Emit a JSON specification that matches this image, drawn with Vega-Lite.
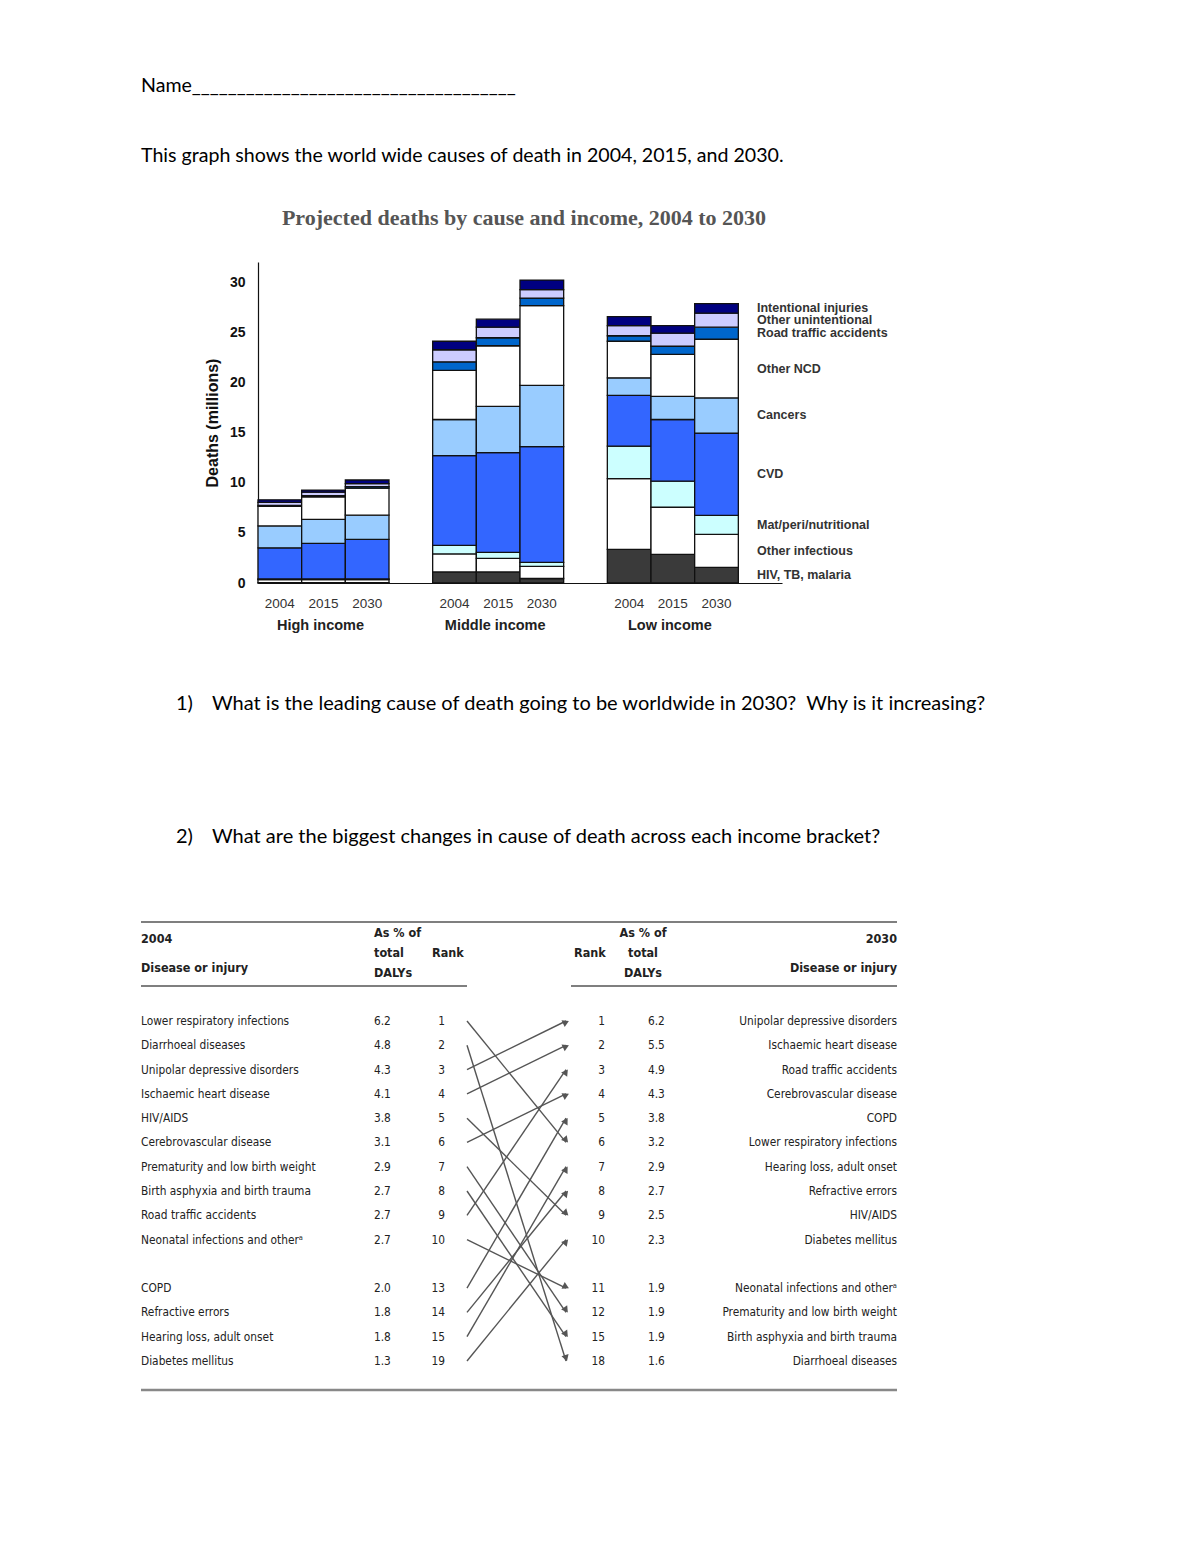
{
  "$schema": "https://vega.github.io/schema/vega-lite/v6.json",
  "width": 1200,
  "height": 1553,
  "padding": 0,
  "autosize": {"type": "none"},
  "background": "white",
  "config": {"view": {"stroke": null}, "font": "Liberation Sans"},
  "datasets": {
    "deaths": [
      {"income": "High", "year": "2004", "cause": "HIV, TB, malaria", "deaths": 0.03},
      {"income": "High", "year": "2004", "cause": "Other infectious", "deaths": 0.32},
      {"income": "High", "year": "2004", "cause": "Mat/peri/nutritional", "deaths": 0.05},
      {"income": "High", "year": "2004", "cause": "CVD", "deaths": 3.11},
      {"income": "High", "year": "2004", "cause": "Cancers", "deaths": 2.18},
      {"income": "High", "year": "2004", "cause": "Other NCD", "deaths": 1.94},
      {"income": "High", "year": "2004", "cause": "Road traffic accidents", "deaths": 0.1},
      {"income": "High", "year": "2004", "cause": "Other unintentional", "deaths": 0.3},
      {"income": "High", "year": "2004", "cause": "Intentional injuries", "deaths": 0.26},
      {"income": "High", "year": "2015", "cause": "HIV, TB, malaria", "deaths": 0.03},
      {"income": "High", "year": "2015", "cause": "Other infectious", "deaths": 0.32},
      {"income": "High", "year": "2015", "cause": "Mat/peri/nutritional", "deaths": 0.05},
      {"income": "High", "year": "2015", "cause": "CVD", "deaths": 3.55},
      {"income": "High", "year": "2015", "cause": "Cancers", "deaths": 2.4},
      {"income": "High", "year": "2015", "cause": "Other NCD", "deaths": 2.25},
      {"income": "High", "year": "2015", "cause": "Road traffic accidents", "deaths": 0.1},
      {"income": "High", "year": "2015", "cause": "Other unintentional", "deaths": 0.35},
      {"income": "High", "year": "2015", "cause": "Intentional injuries", "deaths": 0.21},
      {"income": "High", "year": "2030", "cause": "HIV, TB, malaria", "deaths": 0.03},
      {"income": "High", "year": "2030", "cause": "Other infectious", "deaths": 0.32},
      {"income": "High", "year": "2030", "cause": "Mat/peri/nutritional", "deaths": 0.05},
      {"income": "High", "year": "2030", "cause": "CVD", "deaths": 3.95},
      {"income": "High", "year": "2030", "cause": "Cancers", "deaths": 2.41},
      {"income": "High", "year": "2030", "cause": "Other NCD", "deaths": 2.7},
      {"income": "High", "year": "2030", "cause": "Road traffic accidents", "deaths": 0.15},
      {"income": "High", "year": "2030", "cause": "Other unintentional", "deaths": 0.3},
      {"income": "High", "year": "2030", "cause": "Intentional injuries", "deaths": 0.36},
      {"income": "Middle", "year": "2004", "cause": "HIV, TB, malaria", "deaths": 1.1},
      {"income": "Middle", "year": "2004", "cause": "Other infectious", "deaths": 1.8},
      {"income": "Middle", "year": "2004", "cause": "Mat/peri/nutritional", "deaths": 0.85},
      {"income": "Middle", "year": "2004", "cause": "CVD", "deaths": 8.95},
      {"income": "Middle", "year": "2004", "cause": "Cancers", "deaths": 3.6},
      {"income": "Middle", "year": "2004", "cause": "Other NCD", "deaths": 4.9},
      {"income": "Middle", "year": "2004", "cause": "Road traffic accidents", "deaths": 0.85},
      {"income": "Middle", "year": "2004", "cause": "Other unintentional", "deaths": 1.2},
      {"income": "Middle", "year": "2004", "cause": "Intentional injuries", "deaths": 0.85},
      {"income": "Middle", "year": "2015", "cause": "HIV, TB, malaria", "deaths": 1.1},
      {"income": "Middle", "year": "2015", "cause": "Other infectious", "deaths": 1.35},
      {"income": "Middle", "year": "2015", "cause": "Mat/peri/nutritional", "deaths": 0.6},
      {"income": "Middle", "year": "2015", "cause": "CVD", "deaths": 9.95},
      {"income": "Middle", "year": "2015", "cause": "Cancers", "deaths": 4.6},
      {"income": "Middle", "year": "2015", "cause": "Other NCD", "deaths": 6.05},
      {"income": "Middle", "year": "2015", "cause": "Road traffic accidents", "deaths": 0.8},
      {"income": "Middle", "year": "2015", "cause": "Other unintentional", "deaths": 1.05},
      {"income": "Middle", "year": "2015", "cause": "Intentional injuries", "deaths": 0.8},
      {"income": "Middle", "year": "2030", "cause": "HIV, TB, malaria", "deaths": 0.45},
      {"income": "Middle", "year": "2030", "cause": "Other infectious", "deaths": 1.2},
      {"income": "Middle", "year": "2030", "cause": "Mat/peri/nutritional", "deaths": 0.4},
      {"income": "Middle", "year": "2030", "cause": "CVD", "deaths": 11.55},
      {"income": "Middle", "year": "2030", "cause": "Cancers", "deaths": 6.1},
      {"income": "Middle", "year": "2030", "cause": "Other NCD", "deaths": 7.95},
      {"income": "Middle", "year": "2030", "cause": "Road traffic accidents", "deaths": 0.75},
      {"income": "Middle", "year": "2030", "cause": "Other unintentional", "deaths": 0.85},
      {"income": "Middle", "year": "2030", "cause": "Intentional injuries", "deaths": 0.95},
      {"income": "Low", "year": "2004", "cause": "HIV, TB, malaria", "deaths": 3.35},
      {"income": "Low", "year": "2004", "cause": "Other infectious", "deaths": 7.05},
      {"income": "Low", "year": "2004", "cause": "Mat/peri/nutritional", "deaths": 3.25},
      {"income": "Low", "year": "2004", "cause": "CVD", "deaths": 5.05},
      {"income": "Low", "year": "2004", "cause": "Cancers", "deaths": 1.75},
      {"income": "Low", "year": "2004", "cause": "Other NCD", "deaths": 3.65},
      {"income": "Low", "year": "2004", "cause": "Road traffic accidents", "deaths": 0.55},
      {"income": "Low", "year": "2004", "cause": "Other unintentional", "deaths": 1.0},
      {"income": "Low", "year": "2004", "cause": "Intentional injuries", "deaths": 0.9},
      {"income": "Low", "year": "2015", "cause": "HIV, TB, malaria", "deaths": 2.85},
      {"income": "Low", "year": "2015", "cause": "Other infectious", "deaths": 4.7},
      {"income": "Low", "year": "2015", "cause": "Mat/peri/nutritional", "deaths": 2.6},
      {"income": "Low", "year": "2015", "cause": "CVD", "deaths": 6.15},
      {"income": "Low", "year": "2015", "cause": "Cancers", "deaths": 2.3},
      {"income": "Low", "year": "2015", "cause": "Other NCD", "deaths": 4.2},
      {"income": "Low", "year": "2015", "cause": "Road traffic accidents", "deaths": 0.8},
      {"income": "Low", "year": "2015", "cause": "Other unintentional", "deaths": 1.3},
      {"income": "Low", "year": "2015", "cause": "Intentional injuries", "deaths": 0.75},
      {"income": "Low", "year": "2030", "cause": "HIV, TB, malaria", "deaths": 1.55},
      {"income": "Low", "year": "2030", "cause": "Other infectious", "deaths": 3.3},
      {"income": "Low", "year": "2030", "cause": "Mat/peri/nutritional", "deaths": 1.9},
      {"income": "Low", "year": "2030", "cause": "CVD", "deaths": 8.2},
      {"income": "Low", "year": "2030", "cause": "Cancers", "deaths": 3.5},
      {"income": "Low", "year": "2030", "cause": "Other NCD", "deaths": 5.85},
      {"income": "Low", "year": "2030", "cause": "Road traffic accidents", "deaths": 1.2},
      {"income": "Low", "year": "2030", "cause": "Other unintentional", "deaths": 1.4},
      {"income": "Low", "year": "2030", "cause": "Intentional injuries", "deaths": 0.95}
    ],
    "ranking": [
      {"disease": "Lower respiratory infections", "pct2004": 6.2, "rank2004": 1, "pct2030": 3.2, "rank2030": 6},
      {"disease": "Diarrhoeal diseases", "pct2004": 4.8, "rank2004": 2, "pct2030": 1.6, "rank2030": 18},
      {"disease": "Unipolar depressive disorders", "pct2004": 4.3, "rank2004": 3, "pct2030": 6.2, "rank2030": 1},
      {"disease": "Ischaemic heart disease", "pct2004": 4.1, "rank2004": 4, "pct2030": 5.5, "rank2030": 2},
      {"disease": "HIV/AIDS", "pct2004": 3.8, "rank2004": 5, "pct2030": 2.5, "rank2030": 9},
      {"disease": "Cerebrovascular disease", "pct2004": 3.1, "rank2004": 6, "pct2030": 4.3, "rank2030": 4},
      {"disease": "Prematurity and low birth weight", "pct2004": 2.9, "rank2004": 7, "pct2030": 1.9, "rank2030": 12},
      {"disease": "Birth asphyxia and birth trauma", "pct2004": 2.7, "rank2004": 8, "pct2030": 1.9, "rank2030": 15},
      {"disease": "Road traffic accidents", "pct2004": 2.7, "rank2004": 9, "pct2030": 4.9, "rank2030": 3},
      {"disease": "Neonatal infections and otherᵃ", "pct2004": 2.7, "rank2004": 10, "pct2030": 1.9, "rank2030": 11},
      {"disease": "COPD", "pct2004": 2.0, "rank2004": 13, "pct2030": 3.8, "rank2030": 5},
      {"disease": "Refractive errors", "pct2004": 1.8, "rank2004": 14, "pct2030": 2.7, "rank2030": 8},
      {"disease": "Hearing loss, adult onset", "pct2004": 1.8, "rank2004": 15, "pct2030": 2.9, "rank2030": 7},
      {"disease": "Diabetes mellitus", "pct2004": 1.3, "rank2004": 19, "pct2030": 2.3, "rank2030": 10}
    ]
  },
  "resolve": {"scale": {"x": "independent", "y": "independent", "color": "independent", "angle": "independent"}},
  "layer": [
    {
      "data": {"values": [{"t": "Name____________________________________"}]},
      "mark": {"type": "text", "align": "left", "baseline": "alphabetic", "font": "Lato", "fontSize": 19.6, "color": "#000"},
      "encoding": {"x": {"value": 141}, "y": {"value": 92}, "text": {"field": "t"}}
    },
    {
      "data": {"values": [{"t": "This graph shows the world wide causes of death in 2004, 2015, and 2030."}]},
      "mark": {"type": "text", "align": "left", "baseline": "alphabetic", "font": "Lato", "fontSize": 19.6, "color": "#000"},
      "encoding": {"x": {"value": 141}, "y": {"value": 162}, "text": {"field": "t"}}
    },
    {
      "data": {"values": [{"t": "Projected deaths by cause and income, 2004 to 2030"}]},
      "mark": {"type": "text", "align": "center", "baseline": "alphabetic", "font": "Liberation Serif", "fontWeight": "bold", "fontSize": 22, "color": "#555"},
      "encoding": {"x": {"value": 524}, "y": {"value": 225}, "text": {"field": "t"}}
    },
    {
      "data": {"name": "deaths"},
      "transform": [
        {"calculate": "indexof(['HIV, TB, malaria','Other infectious','Mat/peri/nutritional','CVD','Cancers','Other NCD','Road traffic accidents','Other unintentional','Intentional injuries'], datum.cause)", "as": "ord"},
        {"calculate": "datum.income + '|' + datum.year", "as": "slot"},
        {"stack": "deaths", "groupby": ["slot"], "sort": [{"field": "ord", "order": "ascending"}], "as": ["y0", "y1"]}
      ],
      "mark": {"type": "bar", "stroke": "#111", "strokeWidth": 1.3},
      "encoding": {
        "x": {
          "field": "slot", "type": "nominal",
          "scale": {"domain": ["High|2004", "High|2015", "High|2030", "g1", "Middle|2004", "Middle|2015", "Middle|2030", "g2", "Low|2004", "Low|2015", "Low|2030", "g3"], "range": [258, 782], "paddingInner": 0, "paddingOuter": 0},
          "axis": {"offset": -970, "title": null, "labelExpr": "indexof(datum.value, '|') > 0 ? split(datum.value, '|')[1] : ''", "ticks": false, "grid": false, "domainColor": "#111", "domainWidth": 1.2, "labelAngle": 0, "labelFontSize": 13.5, "labelColor": "#333", "labelPadding": 13, "labelFont": "Liberation Sans"}
        },
        "y": {
          "field": "y0", "type": "quantitative",
          "scale": {"domain": [0, 32], "range": [583, 262], "nice": false},
          "axis": {"offset": -258, "values": [0, 5, 10, 15, 20, 25, 30], "ticks": false, "grid": false, "domainColor": "#111", "domainWidth": 1.2, "labelFontSize": 14, "labelFontWeight": "bold", "labelColor": "#111", "labelPadding": 13, "title": "Deaths (millions)", "titleFontSize": 16, "titleFontWeight": "bold", "titleColor": "#111", "titlePadding": 9}
        },
        "y2": {"field": "y1"},
        "color": {
          "field": "cause", "type": "nominal",
          "scale": {"domain": ["HIV, TB, malaria", "Other infectious", "Mat/peri/nutritional", "CVD", "Cancers", "Other NCD", "Road traffic accidents", "Other unintentional", "Intentional injuries"], "range": ["#3a3a3a", "#ffffff", "#ccffff", "#3366ff", "#99ccff", "#ffffff", "#0066cc", "#ccccff", "#000080"]},
          "legend": null
        }
      }
    },
    {
      "data": {"name": "deaths"},
      "transform": [
        {"calculate": "indexof(['HIV, TB, malaria','Other infectious','Mat/peri/nutritional','CVD','Cancers','Other NCD','Road traffic accidents','Other unintentional','Intentional injuries'], datum.cause)", "as": "ord"},
        {"calculate": "datum.income + '|' + datum.year", "as": "slot"},
        {"stack": "deaths", "groupby": ["slot"], "sort": [{"field": "ord", "order": "ascending"}], "as": ["y0", "y1"]},
        {"filter": "datum.slot == 'Low|2030'"},
        {"calculate": "(datum.y0 + datum.y1) / 2", "as": "mid"}
      ],
      "mark": {"type": "text", "align": "left", "baseline": "middle", "fontSize": 12.5, "fontWeight": "bold", "color": "#333"},
      "encoding": {
        "x": {"value": 757},
        "y": {"field": "mid", "type": "quantitative", "scale": {"domain": [0, 32], "range": [583, 262], "nice": false}, "axis": null},
        "text": {"field": "cause"}
      }
    },
    {
      "data": {"values": [{"income": "High", "label": "High income"}, {"income": "Middle", "label": "Middle income"}, {"income": "Low", "label": "Low income"}]},
      "transform": [{"calculate": "datum.income + '|2015'", "as": "slot"}],
      "mark": {"type": "text", "align": "center", "baseline": "middle", "fontSize": 14.5, "fontWeight": "bold", "color": "#222", "dx": -3},
      "encoding": {
        "x": {"field": "slot", "type": "nominal", "scale": {"domain": ["High|2004", "High|2015", "High|2030", "g1", "Middle|2004", "Middle|2015", "Middle|2030", "g2", "Low|2004", "Low|2015", "Low|2030", "g3"], "range": [258, 782], "paddingInner": 0, "paddingOuter": 0}, "axis": null},
        "y": {"value": 626},
        "text": {"field": "label"}
      }
    },
    {
      "data": {"values": [{"n": "1)", "q": "What is the leading cause of death going to be worldwide in 2030?\u00a0 Why is it increasing?"}]},
      "layer": [
        {"mark": {"type": "text", "align": "left", "baseline": "alphabetic", "font": "Lato", "fontSize": 20, "color": "#000"}, "encoding": {"x": {"value": 176}, "y": {"value": 710}, "text": {"field": "n"}}},
        {"mark": {"type": "text", "align": "left", "baseline": "alphabetic", "font": "Lato", "fontSize": 20, "color": "#000"}, "encoding": {"x": {"value": 212}, "y": {"value": 710}, "text": {"field": "q"}}}
      ]
    },
    {
      "data": {"values": [{"n": "2)", "q": "What are the biggest changes in cause of death across each income bracket?"}]},
      "layer": [
        {"mark": {"type": "text", "align": "left", "baseline": "alphabetic", "font": "Lato", "fontSize": 20, "color": "#000"}, "encoding": {"x": {"value": 176}, "y": {"value": 843}, "text": {"field": "n"}}},
        {"mark": {"type": "text", "align": "left", "baseline": "alphabetic", "font": "Lato", "fontSize": 20, "color": "#000"}, "encoding": {"x": {"value": 212}, "y": {"value": 843}, "text": {"field": "q"}}}
      ]
    },
    {
      "data": {"values": [{}]},
      "layer": [
        {"mark": {"type": "rule", "color": "#555", "strokeWidth": 1.5}, "encoding": {"x": {"value": 141}, "x2": {"value": 897}, "y": {"value": 922}}},
        {"mark": {"type": "rule", "color": "#555", "strokeWidth": 1.5}, "encoding": {"x": {"value": 141}, "x2": {"value": 467}, "y": {"value": 986}}},
        {"mark": {"type": "rule", "color": "#555", "strokeWidth": 1.5}, "encoding": {"x": {"value": 571}, "x2": {"value": 897}, "y": {"value": 986}}},
        {"mark": {"type": "rule", "color": "#888", "strokeWidth": 2.5}, "encoding": {"x": {"value": 141}, "x2": {"value": 897}, "y": {"value": 1390}}}
      ]
    },
    {
      "data": {"values": [{"a": ["2004", "Disease or injury"], "b": ["As % of", "total", "DALYs"], "r": "Rank", "c": ["2030", "Disease or injury"]}]},
      "layer": [
        {"mark": {"type": "text", "align": "left", "baseline": "middle", "lineHeight": 29, "font": "DejaVu Sans Condensed", "fontWeight": "bold", "fontSize": 12.5, "color": "#222"}, "encoding": {"x": {"value": 141}, "y": {"value": 939}, "text": {"field": "a"}}},
        {"mark": {"type": "text", "align": "left", "baseline": "middle", "lineHeight": 20, "font": "DejaVu Sans Condensed", "fontWeight": "bold", "fontSize": 12.5, "color": "#222"}, "encoding": {"x": {"value": 374}, "y": {"value": 933}, "text": {"field": "b"}}},
        {"mark": {"type": "text", "align": "left", "baseline": "middle", "font": "DejaVu Sans Condensed", "fontWeight": "bold", "fontSize": 12.5, "color": "#222"}, "encoding": {"x": {"value": 432}, "y": {"value": 953}, "text": {"field": "r"}}},
        {"mark": {"type": "text", "align": "left", "baseline": "middle", "font": "DejaVu Sans Condensed", "fontWeight": "bold", "fontSize": 12.5, "color": "#222"}, "encoding": {"x": {"value": 574}, "y": {"value": 953}, "text": {"field": "r"}}},
        {"mark": {"type": "text", "align": "center", "baseline": "middle", "lineHeight": 20, "font": "DejaVu Sans Condensed", "fontWeight": "bold", "fontSize": 12.5, "color": "#222"}, "encoding": {"x": {"value": 643}, "y": {"value": 933}, "text": {"field": "b"}}},
        {"mark": {"type": "text", "align": "right", "baseline": "middle", "lineHeight": 29, "font": "DejaVu Sans Condensed", "fontWeight": "bold", "fontSize": 12.5, "color": "#222"}, "encoding": {"x": {"value": 897}, "y": {"value": 939}, "text": {"field": "c"}}}
      ]
    },
    {
      "data": {"name": "ranking"},
      "transform": [
        {"window": [{"op": "row_number", "as": "rL"}], "sort": [{"field": "rank2004", "order": "ascending"}]},
        {"window": [{"op": "row_number", "as": "rR"}], "sort": [{"field": "rank2030", "order": "ascending"}]},
        {"calculate": "datum.rL + (datum.rL > 10 ? 1 : 0)", "as": "posL"},
        {"calculate": "datum.rR + (datum.rR > 10 ? 1 : 0)", "as": "posR"},
        {"calculate": "format(datum.pct2004, '.1f')", "as": "p04"},
        {"calculate": "format(datum.pct2030, '.1f')", "as": "p30"},
        {"calculate": "atan2((datum.posR - datum.posL) * 24.2857, 102)", "as": "th"},
        {"calculate": "datum.th * 180 / PI", "as": "ang"},
        {"calculate": "datum.posR - 3 * sin(datum.th) / 24.2857", "as": "ay"}
      ],
      "layer": [
        {"mark": {"type": "text", "align": "left", "baseline": "middle", "font": "DejaVu Sans Condensed", "fontSize": 11.8, "color": "#222"},
         "encoding": {"x": {"value": 141}, "y": {"field": "posL", "type": "quantitative", "scale": {"domain": [1, 15], "range": [1021, 1361], "nice": false, "zero": false}, "axis": null}, "text": {"field": "disease"}}},
        {"mark": {"type": "text", "align": "left", "baseline": "middle", "font": "DejaVu Sans Condensed", "fontSize": 11.8, "color": "#222"},
         "encoding": {"x": {"value": 374}, "y": {"field": "posL", "type": "quantitative", "scale": {"domain": [1, 15], "range": [1021, 1361], "nice": false, "zero": false}, "axis": null}, "text": {"field": "p04"}}},
        {"mark": {"type": "text", "align": "right", "baseline": "middle", "font": "DejaVu Sans Condensed", "fontSize": 11.8, "color": "#222"},
         "encoding": {"x": {"value": 445}, "y": {"field": "posL", "type": "quantitative", "scale": {"domain": [1, 15], "range": [1021, 1361], "nice": false, "zero": false}, "axis": null}, "text": {"field": "rank2004"}}},
        {"mark": {"type": "text", "align": "right", "baseline": "middle", "font": "DejaVu Sans Condensed", "fontSize": 11.8, "color": "#222"},
         "encoding": {"x": {"value": 605}, "y": {"field": "posR", "type": "quantitative", "scale": {"domain": [1, 15], "range": [1021, 1361], "nice": false, "zero": false}, "axis": null}, "text": {"field": "rank2030"}}},
        {"mark": {"type": "text", "align": "left", "baseline": "middle", "font": "DejaVu Sans Condensed", "fontSize": 11.8, "color": "#222"},
         "encoding": {"x": {"value": 648}, "y": {"field": "posR", "type": "quantitative", "scale": {"domain": [1, 15], "range": [1021, 1361], "nice": false, "zero": false}, "axis": null}, "text": {"field": "p30"}}},
        {"mark": {"type": "text", "align": "right", "baseline": "middle", "font": "DejaVu Sans Condensed", "fontSize": 11.8, "color": "#222"},
         "encoding": {"x": {"value": 897}, "y": {"field": "posR", "type": "quantitative", "scale": {"domain": [1, 15], "range": [1021, 1361], "nice": false, "zero": false}, "axis": null}, "text": {"field": "disease"}}},
        {"mark": {"type": "rule", "color": "#555", "strokeWidth": 1.4},
         "encoding": {"x": {"value": 467}, "x2": {"value": 566}, "y": {"field": "posL", "type": "quantitative", "scale": {"domain": [1, 15], "range": [1021, 1361], "nice": false, "zero": false}, "axis": null}, "y2": {"field": "posR"}}},
        {"mark": {"type": "point", "shape": "triangle-right", "filled": true, "color": "#555", "size": 55, "opacity": 1},
         "encoding": {"x": {"value": 566}, "y": {"field": "ay", "type": "quantitative", "scale": {"domain": [1, 15], "range": [1021, 1361], "nice": false, "zero": false}, "axis": null}, "angle": {"field": "ang", "type": "quantitative", "scale": null}}}
      ]
    }
  ]
}
